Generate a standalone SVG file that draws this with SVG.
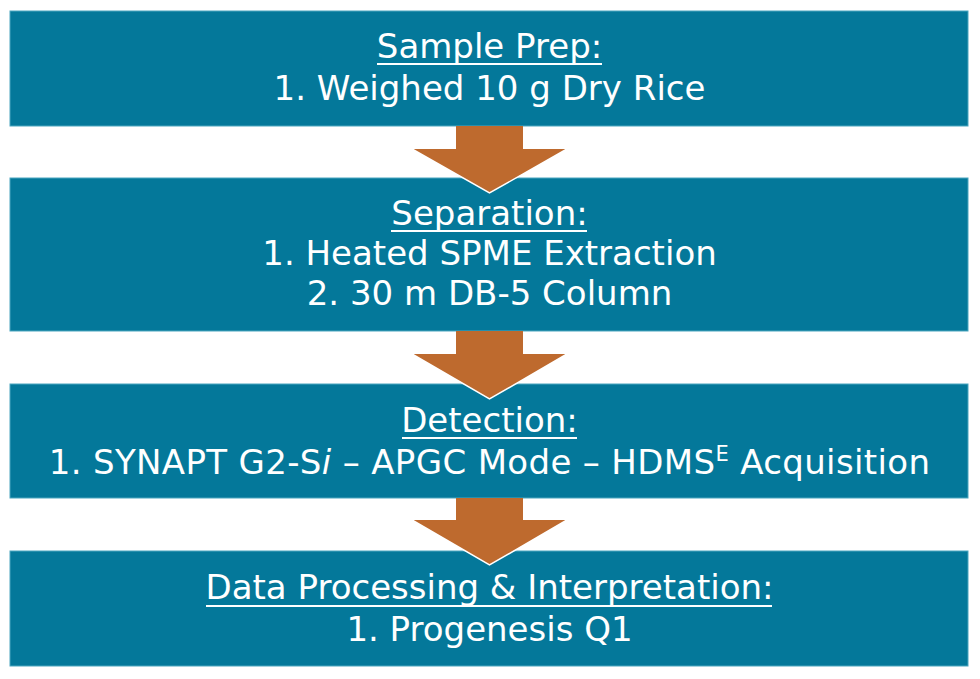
<svg xmlns="http://www.w3.org/2000/svg" width="980" height="679" viewBox="0 0 980 679">
<style>
.box{fill:#04789a;stroke:#4aa6bf;stroke-width:1}
.t{font-family:"DejaVu Sans",Verdana,sans-serif;font-size:34px;fill:#ffffff;text-anchor:middle}
.u{stroke:#ffffff;stroke-width:2}
.arr{fill:#be6a2e;stroke:none}
.edge{fill:none;stroke:#ffffff;stroke-width:1.5;stroke-linejoin:miter}
</style>
<rect x="0" y="0" width="980" height="679" fill="#ffffff"/>
<g id="sample-prep">
<rect class="box" x="10" y="11" width="958" height="115"/>
<text class="t" x="489.5" y="58">Sample Prep:</text>
<line class="u" x1="377" y1="64" x2="602" y2="64"/>
<text class="t" x="489.5" y="100">1. Weighed 10 g Dry Rice</text>
</g>
<g id="separation">
<rect class="box" x="10" y="178" width="958" height="153"/>
<text class="t" x="489.5" y="225">Separation:</text>
<line class="u" x1="391" y1="231" x2="587" y2="231"/>
<text class="t" x="489.5" y="265">1. Heated SPME Extraction</text>
<text class="t" x="489.5" y="305">2. 30 m DB-5 Column</text>
</g>
<g id="detection">
<rect class="box" x="10" y="384" width="958" height="114"/>
<text class="t" x="489.5" y="432">Detection:</text>
<line class="u" x1="402" y1="438" x2="577" y2="438"/>
<text class="t" x="489.5" y="474" letter-spacing="0.35">1. SYNAPT G2-S<tspan font-style="italic">i</tspan> – APGC Mode – HDMS<tspan font-size="21" dy="-13">E</tspan><tspan dy="13"> Acquisition</tspan></text>
</g>
<g id="data-processing">
<rect class="box" x="10" y="551" width="958" height="115"/>
<text class="t" x="489.5" y="599">Data Processing &amp; Interpretation:</text>
<line class="u" x1="206" y1="606" x2="772" y2="606"/>
<text class="t" x="489.5" y="641">1. Progenesis Q1</text>
</g>
<g id="connectors">
<path class="arr" d="M456,126 L523,126 L523,149 L567,149 L489.5,193 L412,149 L456,149 Z"/>
<polyline class="edge" points="567,149 489.5,193 412,149"/>
<path class="arr" d="M456,331 L523,331 L523,354 L567,354 L489.5,399 L412,354 L456,354 Z"/>
<polyline class="edge" points="567,354 489.5,399 412,354"/>
<path class="arr" d="M456,498 L523,498 L523,520 L567,520 L489.5,565 L412,520 L456,520 Z"/>
<polyline class="edge" points="567,520 489.5,565 412,520"/>
</g>
</svg>
